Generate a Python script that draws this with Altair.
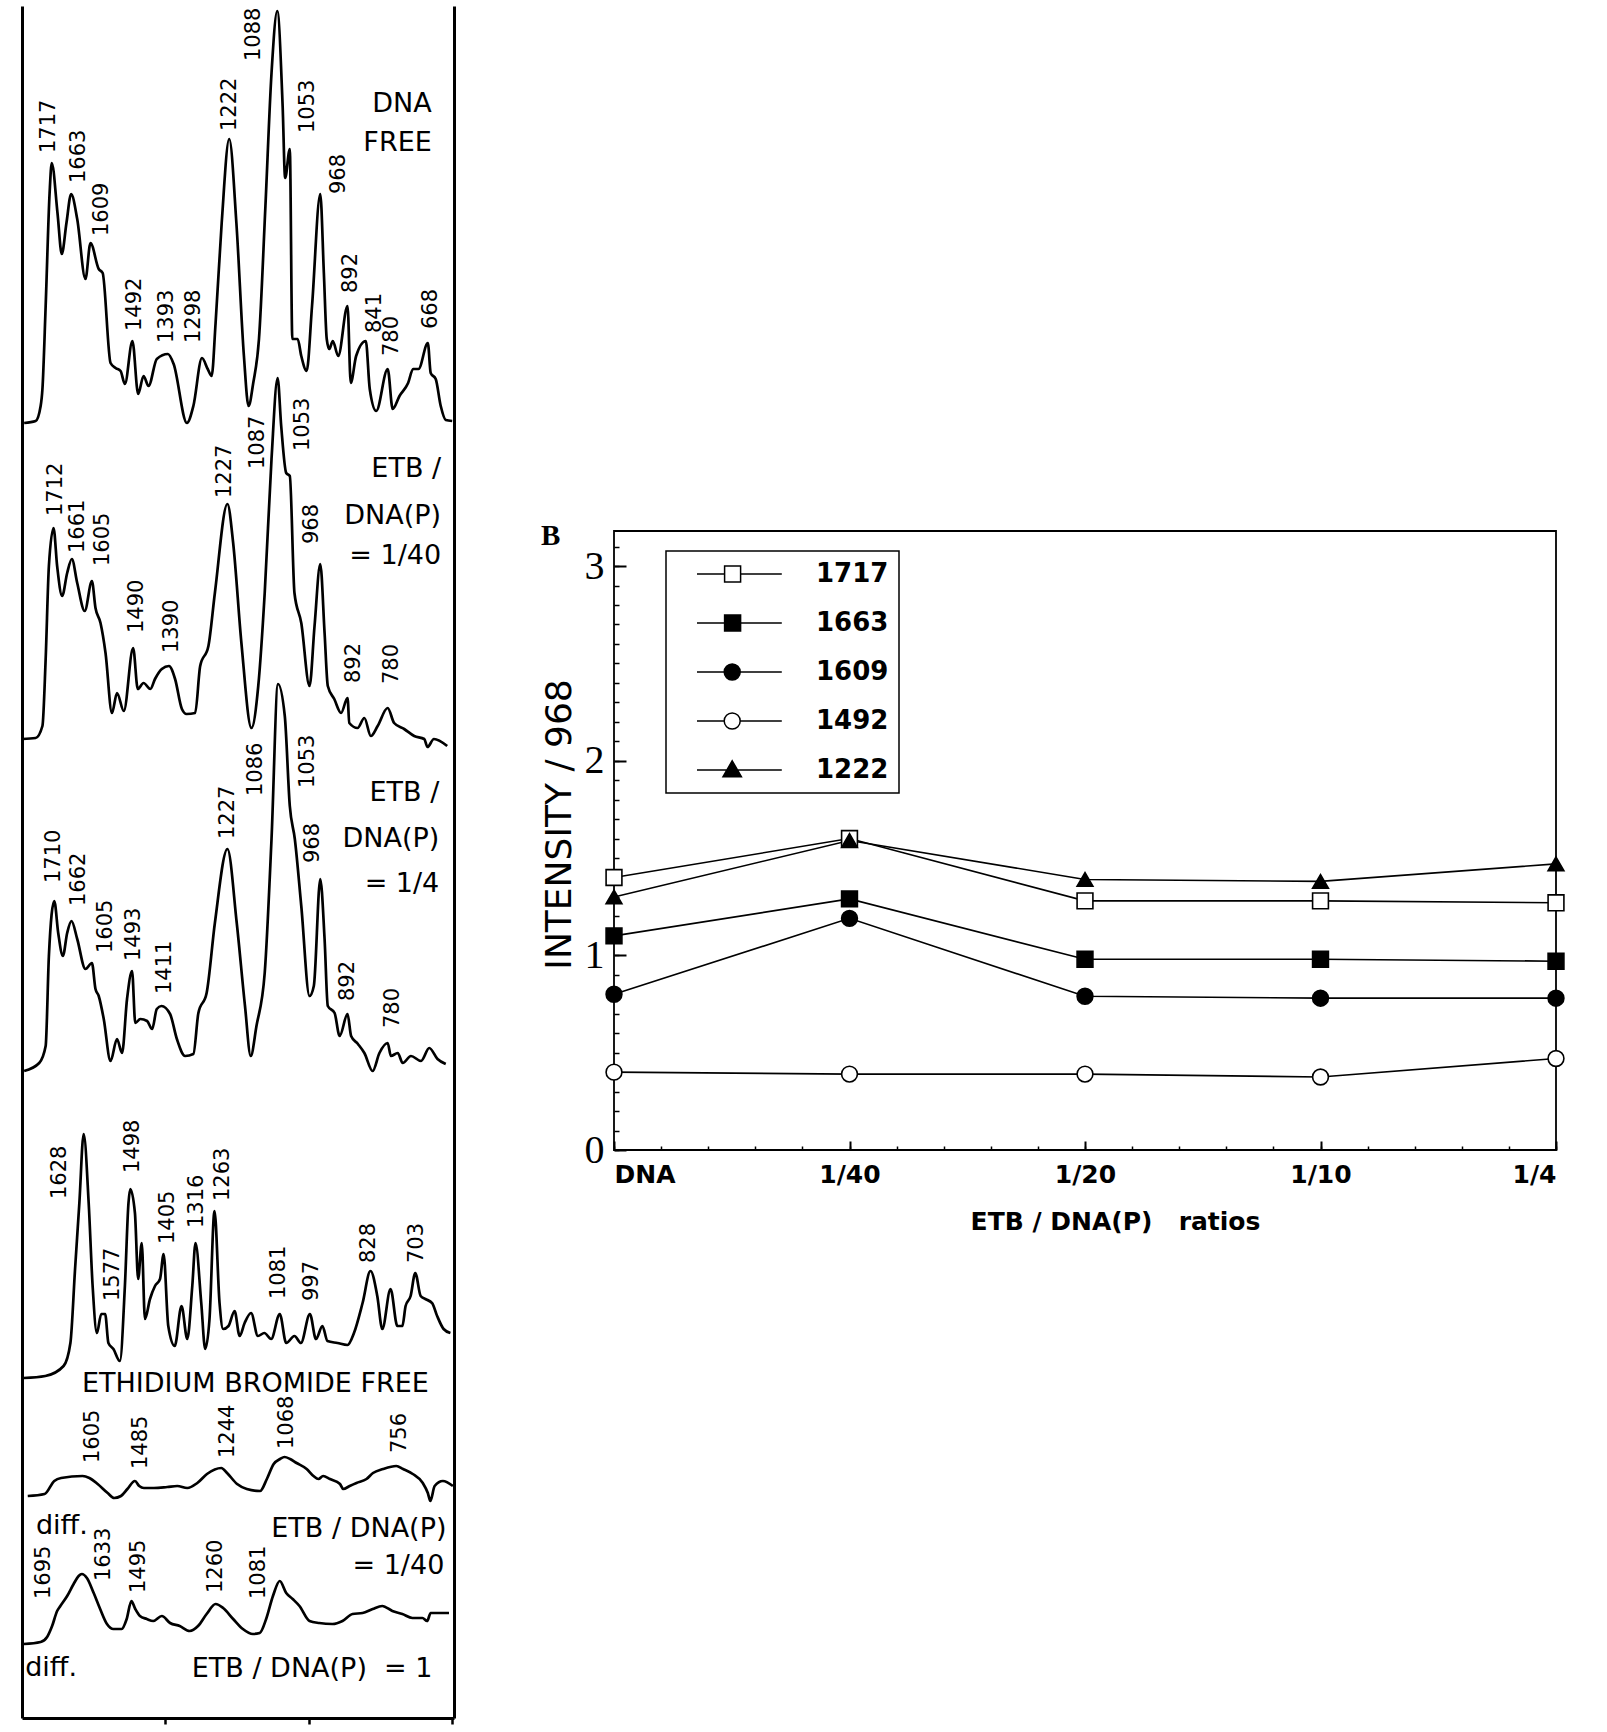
import altair as alt
import pandas as pd

# ---------------- Left panel: stacked Raman spectra ----------------
# wavenumber (cm-1) and height of the trace above its own baseline
wn_dna_free = [1794, 1762, 1748, 1743, 1734, 1723, 1717, 1701, 1689, 1676, 1663, 1646, 1623, 1609, 1586,
               1575, 1553, 1539, 1525, 1513, 1492, 1476, 1461, 1447, 1424, 1393, 1377, 1340, 1322, 1298,
               1282, 1271, 1260, 1243, 1222, 1202, 1181, 1168, 1155, 1139, 1121, 1104, 1088, 1073, 1066,
               1053, 1046, 1031, 1021, 1006, 991, 968, 958, 950, 943, 933, 918, 892, 883, 868,
               841, 830, 812, 780, 766, 747, 723, 709, 694, 668, 660, 646, 632, 618, 600]
int_dna_free = [0, 2, 17, 34, 117, 230, 260, 210, 169, 200, 229, 204, 144, 180, 154,
                150, 60, 55, 52, 39, 82, 29, 47, 37, 64, 69, 59, 0, 17, 65,
                54, 47, 100, 200, 284, 200, 67, 17, 40, 84, 217, 350, 412, 317, 245,
                274, 84, 84, 67, 52, 117, 229, 150, 84, 74, 82, 67, 117, 40, 67,
                82, 34, 12, 54, 14, 27, 40, 54, 54, 80, 50, 44, 17, 3, 2]

wn_etb_40 = [1799, 1762, 1743, 1734, 1725, 1712, 1702, 1688, 1674, 1661, 1646, 1625, 1605, 1595, 1581,
             1567, 1549, 1535, 1516, 1490, 1477, 1461, 1442, 1429, 1410, 1390, 1373, 1354, 1341, 1317,
             1303, 1280, 1262, 1227, 1211, 1188, 1160, 1141, 1123, 1104, 1087, 1077, 1063, 1053, 1040,
             1021, 998, 984, 968, 956, 947, 929, 910, 892, 887, 864, 845, 827, 808, 780,
             762, 734, 706, 678, 669, 651, 614]
int_etb_40 = [0, 1, 13, 80, 173, 211, 173, 143, 166, 180, 156, 128, 158, 131, 116,
              86, 26, 46, 28, 91, 50, 56, 50, 60, 70, 73, 60, 30, 25, 26,
              73, 93, 146, 235, 196, 96, 11, 53, 146, 280, 361, 313, 266, 263, 146,
              116, 53, 113, 175, 106, 53, 40, 26, 41, 16, 11, 21, 3, 13, 31,
              16, 10, 3, 0, -8, 0, -7]

wn_etb_4 = [1794, 1752, 1734, 1725, 1710, 1699, 1686, 1674, 1662, 1646, 1623, 1605, 1595, 1586, 1572,
            1553, 1535, 1521, 1507, 1493, 1484, 1470, 1451, 1437, 1424, 1411, 1387, 1368, 1345, 1322,
            1308, 1285, 1262, 1227, 1201, 1178, 1162, 1146, 1123, 1104, 1086, 1067, 1053, 1039, 1021,
            998, 986, 968, 956, 947, 928, 914, 892, 882, 863, 845, 822, 803, 780, 771,
            752, 738, 715, 687, 664, 641, 618]
int_etb_4 = [0, 8, 25, 115, 170, 138, 115, 138, 150, 132, 102, 108, 82, 75, 52,
             10, 32, 18, 72, 100, 48, 52, 50, 42, 62, 65, 57, 32, 15, 17,
             58, 78, 148, 222, 148, 65, 15, 45, 98, 232, 387, 355, 265, 232, 165,
             75, 85, 192, 132, 65, 58, 35, 57, 35, 27, 18, 0, 18, 28, 15,
             18, 8, 15, 10, 23, 12, 7]

wn_etb_free = [1795, 1735, 1684, 1665, 1652, 1640, 1628, 1614, 1603, 1591, 1579, 1568, 1559, 1545, 1527,
               1513, 1503, 1498, 1485, 1476, 1466, 1457, 1443, 1429, 1415, 1405, 1392, 1374, 1355, 1339,
               1325, 1316, 1300, 1289, 1277, 1263, 1249, 1239, 1224, 1207, 1193, 1179, 1161, 1142, 1124,
               1105, 1081, 1063, 1040, 1022, 997, 980, 962, 948, 920, 892, 874, 850, 828, 809,
               795, 772, 753, 739, 730, 716, 703, 688, 675, 656, 642, 624, 605]
int_etb_free = [0, 2, 12, 35, 109, 175, 244, 175, 92, 45, 64, 64, 35, 29, 17,
                92, 175, 189, 165, 99, 135, 59, 79, 92, 99, 124, 52, 32, 72, 39,
                92, 135, 75, 29, 59, 167, 75, 49, 52, 67, 42, 55, 65, 42, 45,
                39, 64, 35, 42, 35, 64, 39, 52, 37, 35, 33, 45, 75, 107, 82,
                49, 89, 52, 52, 72, 82, 105, 82, 79, 75, 62, 49, 45]

wn_diff_40 = [1784, 1737, 1710, 1691, 1631, 1612, 1589, 1561, 1543, 1524, 1506, 1485, 1473, 1460, 1432,
              1395, 1367, 1339, 1311, 1284, 1244, 1228, 1200, 1173, 1136, 1117, 1098, 1080, 1068, 1052,
              1034, 1006, 987, 973, 960, 941, 913, 904, 886, 867, 839, 821, 793, 756, 737,
              710, 682, 668, 661, 649, 626, 598]
int_diff_40 = [0, 2, 15, 18, 20, 18, 12, 3, -2, 0, 7, 15, 10, 8, 8,
               9, 10, 8, 13, 22, 28, 23, 12, 7, 5, 17, 32, 37, 39, 37,
               33, 27, 20, 17, 20, 17, 12, 7, 10, 13, 17, 23, 27, 30, 27,
               22, 13, 3, -5, 10, 15, 10]

wn_diff_1 = [1795, 1748, 1730, 1716, 1702, 1693, 1674, 1656, 1642, 1633, 1619, 1600, 1582, 1563, 1545,
             1522, 1508, 1495, 1484, 1471, 1452, 1434, 1410, 1387, 1360, 1332, 1309, 1285, 1260, 1239,
             1211, 1184, 1156, 1137, 1119, 1100, 1081, 1063, 1045, 1026, 998, 971, 934, 906, 878,
             850, 822, 795, 767, 739, 711, 683, 670, 660, 637, 609]
int_diff_1 = [0, 2, 7, 18, 33, 38, 48, 60, 68, 70, 66, 51, 35, 20, 15,
              15, 25, 43, 35, 28, 25, 23, 28, 21, 18, 13, 18, 30, 40, 36,
              25, 15, 10, 11, 25, 48, 63, 51, 45, 38, 23, 21, 20, 23, 30,
              31, 35, 38, 33, 30, 26, 26, 23, 31, 31, 31]

trace_names = ["DNA free", "ETB/DNA(P) = 1/40", "ETB/DNA(P) = 1/4",
               "Ethidium bromide free", "diff. 1/40", "diff. 1"]
trace_baselines = [1295, 979, 647, 340, 222, 74]
trace_wn = [wn_dna_free, wn_etb_40, wn_etb_4, wn_etb_free, wn_diff_40, wn_diff_1]
trace_int = [int_dna_free, int_etb_40, int_etb_4, int_etb_free, int_diff_40, int_diff_1]

# peak labels: (text, wavenumber anchor, height anchor)
peaks_dna_free = [("1717", 1726, 1565), ("1663", 1640, 1535), ("1609", 1576, 1482), ("1492", 1485, 1387),
                  ("1393", 1396, 1375), ("1298", 1321, 1375), ("1222", 1221, 1587), ("1088", 1153, 1657),
                  ("1053", 1003, 1585), ("968", 916, 1524), ("892", 883, 1425), ("841", 816, 1385),
                  ("780", 769, 1362), ("668", 660, 1389)]
peaks_etb_40 = [("1712", 1706, 1202), ("1661", 1645, 1165), ("1605", 1573, 1152), ("1490", 1479, 1085),
                ("1390", 1381, 1065), ("1227", 1234, 1220), ("1087", 1142, 1249), ("1053", 1017, 1267),
                ("968", 990, 1174), ("892", 873, 1035), ("780", 767, 1034)]
peaks_etb_4 = [("1710", 1711, 835), ("1662", 1641, 812), ("1605", 1566, 765), ("1493", 1488, 757),
               ("1411", 1400, 724), ("1227", 1225, 879), ("1086", 1147, 922), ("1053", 1002, 930),
               ("968", 988, 855), ("892", 891, 717), ("780", 766, 690)]
peaks_etb_free = [("1628", 1693, 519), ("1577", 1546, 417), ("1498", 1490, 545), ("1405", 1393, 474),
                  ("1316", 1313, 490), ("1263", 1240, 517), ("1081", 1082, 419), ("997", 990, 417),
                  ("828", 832, 455), ("703", 699, 455)]
peaks_diff_40 = [("1605", 1602, 255), ("1485", 1469, 249), ("1244", 1224, 260), ("1068", 1061, 269),
                 ("756", 747, 265)]
peaks_diff_1 = [("1695", 1738, 119), ("1633", 1572, 137), ("1495", 1474, 125), ("1260", 1258, 125),
                ("1081", 1138, 119)]

# sample captions
captions_right = [("DNA", 657, 1614), ("FREE", 657, 1575),
                  ("ETB /", 631, 1249), ("DNA(P)", 631, 1202), ("= 1/40", 631, 1162),
                  ("ETB /", 636, 925), ("DNA(P)", 636, 879), ("= 1/4", 636, 834),
                  ("ETB / DNA(P)", 616, 189), ("= 1/40", 622, 152),
                  ("ETB / DNA(P)\u00a0\u00a0= 1", 655, 49)]
captions_left = [("diff.", 1761, 192), ("diff.", 1791, 50)]
captions_center = [("ETHIDIUM BROMIDE FREE", 1149, 334)]

spec_rows = []
for name, base, wns, ints in zip(trace_names, trace_baselines, trace_wn, trace_int):
    for i, (w, h) in enumerate(zip(wns, ints)):
        spec_rows.append({"trace": name, "idx": i, "wn": w, "y": base + h})
df_spec = pd.DataFrame(spec_rows)

peak_rows = []
for lst in [peaks_dna_free, peaks_etb_40, peaks_etb_4, peaks_etb_free, peaks_diff_40, peaks_diff_1]:
    for t, w, y in lst:
        peak_rows.append({"label": t, "wn": w, "y": y})
df_peaks = pd.DataFrame(peak_rows)


def caption_frame(items):
    return pd.DataFrame([{"label": t, "wn": w, "y": y} for t, w, y in items])


spec_x_scale = alt.Scale(domain=[595, 1800], reverse=True, nice=False, zero=False)
spec_y_scale = alt.Scale(domain=[0, 1712], nice=False, zero=False)

frame_bottom = alt.Axis(orient="bottom", values=[1400, 1000, 600], labels=False, title=None, grid=False,
                        tickSize=6, tickWidth=2.5, tickColor="black", domainColor="black", domainWidth=3)
frame_left = alt.Axis(orient="left", labels=False, ticks=False, title=None, grid=False,
                      domainColor="black", domainWidth=3)
frame_right = alt.Axis(orient="right", labels=False, ticks=False, title=None, grid=False,
                       domainColor="black", domainWidth=3)

traces = alt.Chart(df_spec).mark_line(
    color="black", strokeWidth=2.7, strokeJoin="round", interpolate="monotone"
).encode(
    x=alt.X("wn:Q", scale=spec_x_scale, axis=frame_bottom),
    y=alt.Y("y:Q", scale=spec_y_scale, axis=frame_left),
    detail="trace:N",
    order="idx:Q",
)

peak_text = alt.Chart(df_peaks).mark_text(
    angle=270, align="left", baseline="middle", font="DejaVu Sans", fontSize=21, color="black"
).encode(
    x=alt.X("wn:Q", scale=spec_x_scale, axis=None),
    y=alt.Y("y:Q", scale=spec_y_scale, axis=frame_right),
    text="label:N",
)


def caption_layer(items, align):
    return alt.Chart(caption_frame(items)).mark_text(
        align=align, baseline="middle", font="DejaVu Sans", fontSize=27, color="black"
    ).encode(
        x=alt.X("wn:Q", scale=spec_x_scale, axis=None),
        y=alt.Y("y:Q", scale=spec_y_scale, axis=None),
        text="label:N",
    )


spectra = alt.layer(
    traces, peak_text,
    caption_layer(captions_right, "right"),
    caption_layer(captions_left, "left"),
    caption_layer(captions_center, "center"),
).resolve_axis(x="independent", y="independent").properties(width=432, height=1712)

# ---------------- Panel B: intensity ratios ----------------
ratio_labels = ["DNA", "1/40", "1/20", "1/10", "1/4"]
bands = ["1717", "1663", "1609", "1492", "1222"]
i1717 = [1.40, 1.60, 1.28, 1.28, 1.27]
i1663 = [1.10, 1.29, 0.98, 0.98, 0.97]
i1609 = [0.80, 1.19, 0.79, 0.78, 0.78]
i1492 = [0.40, 0.39, 0.39, 0.375, 0.47]
i1222 = [1.30, 1.59, 1.39, 1.38, 1.47]

ratio_pos = list(range(len(ratio_labels)))
ratio_rows = []
for band, vals in zip(bands, [i1717, i1663, i1609, i1492, i1222]):
    for p, v in zip(ratio_pos, vals):
        ratio_rows.append({"pos": p, "value": v, "band": band})
df_ratio = pd.DataFrame(ratio_rows)

label_expr = "[" + ",".join("'%s'" % s for s in ratio_labels) + "][datum.value]"
marker_shapes = ["square", "square", "circle", "circle", "triangle-up"]
marker_fills = ["white", "black", "black", "white", "black"]
marker_strokes = ["black"] * len(bands)

# legend keys: a short line with the marker in its middle
key_square = "M1.0,0H4.45M4.45,-1H6.45V1H4.45ZM6.45,0H11.6"
key_circle = "M1.0,0H4.4M4.4,0A1,1,0,1,1,6.4,0A1,1,0,1,1,4.4,0ZM6.4,0H11.6"
key_triangle = "M1.0,0H11.6M5.4,-1.15L6.55,0.85L4.25,0.85Z"
key_shapes = [key_square, key_square, key_circle, key_circle, key_triangle]

x_scale = alt.Scale(domain=[0, 4], nice=False, zero=False)
y_scale = alt.Scale(domain=[0, 3.18], nice=False, zero=True)

x_major = alt.Axis(orient="bottom", values=ratio_pos, labelExpr=label_expr, offset=-9, tickSize=9,
                   tickWidth=2, tickColor="black", domain=False, grid=False,
                   labelFont="DejaVu Sans", labelFontSize=25, labelFontWeight="bold", labelColor="black",
                   labelPadding=12, labelFlush=True,
                   title="ETB / DNA(P)\u00a0\u00a0\u00a0ratios", titleFont="DejaVu Sans", titleFontSize=25,
                   titleFontWeight="bold", titleColor="black", titlePadding=22, titleX=501)
y_major = alt.Axis(orient="left", values=[0, 1, 2, 3], offset=-12, tickSize=12, tickWidth=2,
                   tickColor="black", domain=False, grid=False,
                   labelFont="Liberation Serif", labelFontSize=40, labelColor="black", labelPadding=10,
                   title="INTENSITY / 968", titleFont="DejaVu Sans", titleFontSize=36,
                   titleFontWeight="normal", titleColor="black", titlePadding=6, titleY=293)
x_minor = alt.Axis(orient="bottom", values=[round(0.2 * i, 1) for i in range(21)], offset=-4, tickSize=4,
                   tickWidth=1.5, tickColor="black", domain=False, grid=False, labels=False, title=None)
y_minor = alt.Axis(orient="left", values=[round(0.1 * i, 1) for i in range(32)], offset=-5, tickSize=5,
                   tickWidth=1.5, tickColor="black", domain=False, grid=False, labels=False, title=None)

key_legend = alt.Legend(title=None, orient="none", legendX=52, legendY=20, direction="vertical",
                        padding=10, strokeColor="black", fillColor="white",
                        labelFont="DejaVu Sans", labelFontSize=26, labelFontWeight="bold",
                        labelColor="black", labelOffset=114, labelBaseline="middle", rowPadding=23,
                        symbolSize=256, symbolStrokeWidth=1.5)

ratio_lines = alt.Chart(df_ratio).mark_line(color="black", strokeWidth=1.6).encode(
    x=alt.X("pos:Q", scale=x_scale, axis=x_major),
    y=alt.Y("value:Q", scale=y_scale, axis=y_major),
    detail="band:N",
)

ratio_points = alt.Chart(df_ratio).mark_point(
    filled=True, opacity=1, size=250, stroke="black", strokeWidth=1.6
).encode(
    x=alt.X("pos:Q", scale=x_scale, axis=x_minor),
    y=alt.Y("value:Q", scale=y_scale, axis=y_minor),
    shape=alt.Shape("band:N", scale=alt.Scale(domain=bands, range=marker_shapes), legend=None),
    fill=alt.Fill("band:N", scale=alt.Scale(domain=bands, range=marker_fills), legend=None),
)

ratio_keys = alt.Chart(df_ratio).transform_filter("datum.value < 0").mark_point(
    filled=True, opacity=1, size=256, strokeWidth=1.5
).encode(
    x=alt.X("pos:Q", scale=x_scale, axis=None),
    y=alt.Y("value:Q", scale=y_scale, axis=None),
    shape=alt.Shape("band:N", scale=alt.Scale(domain=bands, range=key_shapes), legend=key_legend),
    fill=alt.Fill("band:N", scale=alt.Scale(domain=bands, range=marker_fills), legend=key_legend),
    stroke=alt.Stroke("band:N", scale=alt.Scale(domain=bands, range=marker_strokes), legend=key_legend),
)

ratios = alt.layer(ratio_lines, ratio_points, ratio_keys).resolve_scale(
    shape="independent", fill="independent", stroke="independent"
).resolve_axis(x="independent", y="independent").properties(
    width=942, height=619,
    view=alt.ViewBackground(stroke="black", strokeWidth=1.8),
    title=alt.TitleParams(text="B", anchor="start", frame="bounds", offset=0, dy=20,
                          font="Liberation Serif", fontSize=29, fontWeight="bold", color="black"),
)

spacer = alt.Chart(pd.DataFrame({"v": [0]})).mark_text().encode(
    x=alt.value(0), y=alt.value(0), text=alt.value(" ")
).properties(width=10, height=515, view=alt.ViewBackground(strokeWidth=0))

chart = alt.hconcat(
    spectra, alt.vconcat(spacer, ratios, spacing=0), spacing=85
).properties(
    padding={"left": 21, "top": 0, "right": 0, "bottom": 0}, background="white"
).configure_view(strokeWidth=0).configure_legend(strokeWidth=1.5)

chart.save("out.html", embed_options={"renderer": "svg", "actions": False})
